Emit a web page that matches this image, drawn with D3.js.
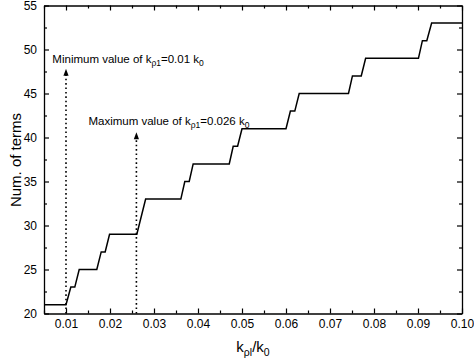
<!DOCTYPE html>
<html><head><meta charset="utf-8">
<script src="https://cdn.jsdelivr.net/npm/d3@7"></script>
<style>
body{margin:0;background:#fff;}
svg{display:block;font-family:"Liberation Sans",Arial,sans-serif;}
</style></head>
<body>
<svg id="chart" width="474" height="360"></svg>
<script>
// ---- data ----
const kx = [0.005, 0.0100, 0.0111, 0.0120, 0.0130, 0.0170, 0.0180, 0.0189, 0.0199, 0.0261, 0.0281,
            0.0361, 0.0370, 0.0380, 0.0389, 0.0471, 0.0480, 0.0490, 0.0500, 0.0600, 0.0610, 0.0620,
            0.0630, 0.0742, 0.0751, 0.0771, 0.0781, 0.0901, 0.0910, 0.0920, 0.0931, 0.1];
const nTerms = [21, 21, 23, 23, 25, 25, 27, 27, 29, 29, 33,
                33, 35, 35, 37, 37, 39, 39, 41, 41, 43, 43,
                45, 45, 47, 47, 49, 49, 51, 51, 53, 53];
const xTicks = [0.01, 0.02, 0.03, 0.04, 0.05, 0.06, 0.07, 0.08, 0.09, 0.10];
const xMinor = [0.005, 0.015, 0.025, 0.035, 0.045, 0.055, 0.065, 0.075, 0.085, 0.095];
const yTicks = [20, 25, 30, 35, 40, 45, 50, 55];
const yMinor = [22.5, 27.5, 32.5, 37.5, 42.5, 47.5, 52.5];
const markerX = [0.01, 0.026];
const markerTop = [47.8, 40.6];
const markerLabel = [["Minimum value of k", "ρ1", "=0.01 k", "0"],
                     ["Maximum value of k", "ρ1", "=0.026 k", "0"]];
const labelPos = [[0.0069, 48.5], [0.0151, 41.4]];

// ---- layout ----
const svg = d3.select("#chart");
const L = 44, R = 462, T = 5.5, B = 313.5;
const x = d3.scaleLinear().domain([0.005, 0.1]).range([L, R]);
const y = d3.scaleLinear().domain([20, 55]).range([B, T]);
const fmt = d3.format(".2f");

function styleAxis(g){
  g.selectAll("path").attr("stroke","#000").attr("stroke-width",1.3);
  g.selectAll("line").attr("stroke","#000").attr("stroke-width",1.2);
  g.selectAll("text").attr("font-family","'Liberation Sans',Arial,sans-serif").attr("font-size",12).attr("fill","#000");
}

// bottom
svg.append("g").attr("transform",`translate(0,${B})`)
  .call(d3.axisBottom(x).tickValues(xTicks).tickFormat(fmt).tickSize(-5).tickSizeOuter(0).tickPadding(6))
  .call(styleAxis).call(g=>g.selectAll("text").attr("dy","0.71em").attr("y",5.5));
svg.append("g").attr("transform",`translate(0,${B})`)
  .call(d3.axisBottom(x).tickValues(xMinor).tickFormat("").tickSize(-3).tickSizeOuter(0))
  .call(styleAxis).call(g=>g.select("path").remove());
// top
svg.append("g").attr("transform",`translate(0,${T})`)
  .call(d3.axisTop(x).tickValues(xTicks).tickFormat("").tickSize(-5).tickSizeOuter(0))
  .call(styleAxis);
svg.append("g").attr("transform",`translate(0,${T})`)
  .call(d3.axisTop(x).tickValues(xMinor).tickFormat("").tickSize(-3).tickSizeOuter(0))
  .call(styleAxis).call(g=>g.select("path").remove());
// left
svg.append("g").attr("transform",`translate(${L},0)`)
  .call(d3.axisLeft(y).tickValues(yTicks).tickFormat(d3.format("d")).tickSize(-5).tickSizeOuter(0).tickPadding(7))
  .call(styleAxis);
svg.append("g").attr("transform",`translate(${L},0)`)
  .call(d3.axisLeft(y).tickValues(yMinor).tickFormat("").tickSize(-3).tickSizeOuter(0))
  .call(styleAxis).call(g=>g.select("path").remove());
// right
svg.append("g").attr("transform",`translate(${R},0)`)
  .call(d3.axisRight(y).tickValues(yTicks).tickFormat("").tickSize(-5).tickSizeOuter(0))
  .call(styleAxis);
svg.append("g").attr("transform",`translate(${R},0)`)
  .call(d3.axisRight(y).tickValues(yMinor).tickFormat("").tickSize(-3).tickSizeOuter(0))
  .call(styleAxis).call(g=>g.select("path").remove());

// data line
const pts = kx.map((v,i)=>[v, nTerms[i]]);
svg.append("path").datum(pts)
  .attr("fill","none").attr("stroke","#000").attr("stroke-width",1.5)
  .attr("d", d3.line().x(d=>x(d[0])).y(d=>y(d[1])));

// marker arrows
markerX.forEach((mx,i)=>{
  const px = x(mx), tip = y(markerTop[i]);
  svg.append("line").attr("x1",px).attr("x2",px).attr("y1",B).attr("y2",tip+6)
    .attr("stroke","#000").attr("stroke-width",1.6).attr("stroke-dasharray","1.6,2.8");
  svg.append("path").attr("d",`M${px},${tip} L${px-2.6},${tip+7} L${px+2.6},${tip+7} Z`).attr("fill","#000");
  const lbl = markerLabel[i];
  const t = svg.append("text").attr("x",x(labelPos[i][0])).attr("y",y(labelPos[i][1]))
    .attr("font-size",11.5).attr("fill","#000");
  t.append("tspan").text(lbl[0]);
  t.append("tspan").attr("font-size",8.5).attr("dy",3).text(lbl[1]);
  t.append("tspan").attr("dy",-3).text(lbl[2]);
  t.append("tspan").attr("font-size",8.5).attr("dy",3).text(lbl[3]);
});

// axis titles
svg.append("text").attr("transform","translate(21,160) rotate(-90)")
  .attr("text-anchor","middle").attr("font-size",15).attr("fill","#000").text("Num. of terms");
const xt = svg.append("text").attr("x",253).attr("y",352).attr("text-anchor","middle")
  .attr("font-size",15).attr("fill","#000");
xt.append("tspan").text("k");
xt.append("tspan").attr("font-size",10.5).attr("dy",4).text("ρl");
xt.append("tspan").attr("dy",-4).text("/k");
xt.append("tspan").attr("font-size",10.5).attr("dy",4).text("0");
</script>
</body></html>
